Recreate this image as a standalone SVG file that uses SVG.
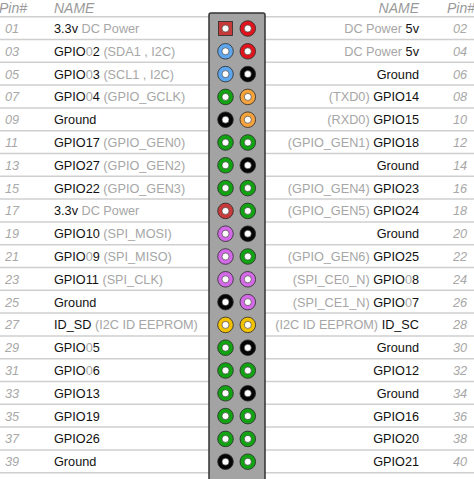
<svg xmlns="http://www.w3.org/2000/svg" width="474" height="479" viewBox="0 0 474 479">
<style>
text{font-family:"Liberation Sans",Arial,sans-serif;font-size:12.7px;fill:#111}
.h{font-style:italic;fill:#9a9a9a;font-size:14px}
.n{font-style:italic;fill:#a8a8a8}
.g{fill:#a6a6a6}
.r{text-anchor:end}
.sep line{stroke:#cfcfcf;stroke-width:1.5}
.pin{stroke:#2a2a2a;stroke-width:0.8}
.dot{fill:#fff;stroke:#333;stroke-width:0.6}
.red{fill:#e0141c}.red2{fill:#c83a3a}.blu{fill:#5ea6ee}.grn{fill:#12a312}.blk{fill:#050505}.org{fill:#f4a23c}.pur{fill:#d56ae8}.yel{fill:#f2c200}
</style>
<g id="header">
<text class="h" x="-1" y="13">Pin#</text>
<text class="h" x="54" y="13">NAME</text>
<text class="h r" x="419" y="13">NAME</text>
<text class="h" x="447" y="13">Pin#</text>
</g>
<g id="connectors" class="sep">
<line x1="0" y1="16.7" x2="209" y2="16.7"/><line x1="265" y1="16.7" x2="474" y2="16.7"/>
<line x1="0" y1="39.5" x2="209" y2="39.5"/><line x1="265" y1="39.5" x2="474" y2="39.5"/>
<line x1="0" y1="62.3" x2="209" y2="62.3"/><line x1="265" y1="62.3" x2="474" y2="62.3"/>
<line x1="0" y1="85.1" x2="209" y2="85.1"/><line x1="265" y1="85.1" x2="474" y2="85.1"/>
<line x1="0" y1="107.9" x2="209" y2="107.9"/><line x1="265" y1="107.9" x2="474" y2="107.9"/>
<line x1="0" y1="130.7" x2="209" y2="130.7"/><line x1="265" y1="130.7" x2="474" y2="130.7"/>
<line x1="0" y1="153.5" x2="209" y2="153.5"/><line x1="265" y1="153.5" x2="474" y2="153.5"/>
<line x1="0" y1="176.3" x2="209" y2="176.3"/><line x1="265" y1="176.3" x2="474" y2="176.3"/>
<line x1="0" y1="199.1" x2="209" y2="199.1"/><line x1="265" y1="199.1" x2="474" y2="199.1"/>
<line x1="0" y1="221.9" x2="209" y2="221.9"/><line x1="265" y1="221.9" x2="474" y2="221.9"/>
<line x1="0" y1="244.7" x2="209" y2="244.7"/><line x1="265" y1="244.7" x2="474" y2="244.7"/>
<line x1="0" y1="267.5" x2="209" y2="267.5"/><line x1="265" y1="267.5" x2="474" y2="267.5"/>
<line x1="0" y1="290.3" x2="209" y2="290.3"/><line x1="265" y1="290.3" x2="474" y2="290.3"/>
<line x1="0" y1="313.1" x2="209" y2="313.1"/><line x1="265" y1="313.1" x2="474" y2="313.1"/>
<line x1="0" y1="335.9" x2="209" y2="335.9"/><line x1="265" y1="335.9" x2="474" y2="335.9"/>
<line x1="0" y1="358.7" x2="209" y2="358.7"/><line x1="265" y1="358.7" x2="474" y2="358.7"/>
<line x1="0" y1="381.5" x2="209" y2="381.5"/><line x1="265" y1="381.5" x2="474" y2="381.5"/>
<line x1="0" y1="404.3" x2="209" y2="404.3"/><line x1="265" y1="404.3" x2="474" y2="404.3"/>
<line x1="0" y1="427.1" x2="209" y2="427.1"/><line x1="265" y1="427.1" x2="474" y2="427.1"/>
<line x1="0" y1="449.9" x2="209" y2="449.9"/><line x1="265" y1="449.9" x2="474" y2="449.9"/>
<line x1="0" y1="472.7" x2="209" y2="472.7"/><line x1="265" y1="472.7" x2="474" y2="472.7"/>
</g>
<g id="board"><rect x="209" y="13" width="56" height="480" rx="2" fill="#a3a3a3" stroke="#333" stroke-width="1.5"/></g>

<g id="pin01"><text class="n" x="5" y="33">01</text><text x="54" y="33">3.3v<tspan class="g"> DC Power</tspan></text><rect class="pin red2" x="218.5" y="21.5" width="14" height="14"/><circle class="dot" cx="225.5" cy="28.5" r="3.5"/></g>
<g id="pin02"><text class="n r" x="467" y="33">02</text><text class="r" x="419" y="33"><tspan class="g">DC Power </tspan>5v</text><circle class="pin red" cx="247.8" cy="28.5" r="7.8"/><circle class="dot" cx="247.8" cy="28.5" r="3.5"/></g>

<g id="pin03"><text class="n" x="5" y="55.8">03</text><text x="54" y="55.8">GPIO<tspan class="g">0</tspan>2<tspan class="g"> (SDA1 , I2C)</tspan></text><circle class="pin blu" cx="225.5" cy="51.3" r="7.8"/><circle class="dot" cx="225.5" cy="51.3" r="3.5"/></g>
<g id="pin04"><text class="n r" x="467" y="55.8">04</text><text class="r" x="419" y="55.8"><tspan class="g">DC Power </tspan>5v</text><circle class="pin red" cx="247.8" cy="51.3" r="7.8"/><circle class="dot" cx="247.8" cy="51.3" r="3.5"/></g>

<g id="pin05"><text class="n" x="5" y="78.6">05</text><text x="54" y="78.6">GPIO<tspan class="g">0</tspan>3<tspan class="g"> (SCL1 , I2C)</tspan></text><circle class="pin blu" cx="225.5" cy="74.1" r="7.8"/><circle class="dot" cx="225.5" cy="74.1" r="3.5"/></g>
<g id="pin06"><text class="n r" x="467" y="78.6">06</text><text class="r" x="419" y="78.6">Ground</text><circle class="pin blk" cx="247.8" cy="74.1" r="7.8"/><circle class="dot" cx="247.8" cy="74.1" r="3.5"/></g>

<g id="pin07"><text class="n" x="5" y="101.4">07</text><text x="54" y="101.4">GPIO<tspan class="g">0</tspan>4<tspan class="g"> (GPIO_GCLK)</tspan></text><circle class="pin grn" cx="225.5" cy="96.9" r="7.8"/><circle class="dot" cx="225.5" cy="96.9" r="3.5"/></g>
<g id="pin08"><text class="n r" x="467" y="101.4">08</text><text class="r" x="419" y="101.4"><tspan class="g">(TXD0) </tspan>GPIO14</text><circle class="pin org" cx="247.8" cy="96.9" r="7.8"/><circle class="dot" cx="247.8" cy="96.9" r="3.5"/></g>

<g id="pin09"><text class="n" x="5" y="124.2">09</text><text x="54" y="124.2">Ground</text><circle class="pin blk" cx="225.5" cy="119.7" r="7.8"/><circle class="dot" cx="225.5" cy="119.7" r="3.5"/></g>
<g id="pin10"><text class="n r" x="467" y="124.2">10</text><text class="r" x="419" y="124.2"><tspan class="g">(RXD0) </tspan>GPIO15</text><circle class="pin org" cx="247.8" cy="119.7" r="7.8"/><circle class="dot" cx="247.8" cy="119.7" r="3.5"/></g>

<g id="pin11"><text class="n" x="5" y="147">11</text><text x="54" y="147">GPIO17<tspan class="g"> (GPIO_GEN0)</tspan></text><circle class="pin grn" cx="225.5" cy="142.5" r="7.8"/><circle class="dot" cx="225.5" cy="142.5" r="3.5"/></g>
<g id="pin12"><text class="n r" x="467" y="147">12</text><text class="r" x="419" y="147"><tspan class="g">(GPIO_GEN1) </tspan>GPIO18</text><circle class="pin grn" cx="247.8" cy="142.5" r="7.8"/><circle class="dot" cx="247.8" cy="142.5" r="3.5"/></g>

<g id="pin13"><text class="n" x="5" y="169.8">13</text><text x="54" y="169.8">GPIO27<tspan class="g"> (GPIO_GEN2)</tspan></text><circle class="pin grn" cx="225.5" cy="165.3" r="7.8"/><circle class="dot" cx="225.5" cy="165.3" r="3.5"/></g>
<g id="pin14"><text class="n r" x="467" y="169.8">14</text><text class="r" x="419" y="169.8">Ground</text><circle class="pin blk" cx="247.8" cy="165.3" r="7.8"/><circle class="dot" cx="247.8" cy="165.3" r="3.5"/></g>

<g id="pin15"><text class="n" x="5" y="192.6">15</text><text x="54" y="192.6">GPIO22<tspan class="g"> (GPIO_GEN3)</tspan></text><circle class="pin grn" cx="225.5" cy="188.1" r="7.8"/><circle class="dot" cx="225.5" cy="188.1" r="3.5"/></g>
<g id="pin16"><text class="n r" x="467" y="192.6">16</text><text class="r" x="419" y="192.6"><tspan class="g">(GPIO_GEN4) </tspan>GPIO23</text><circle class="pin grn" cx="247.8" cy="188.1" r="7.8"/><circle class="dot" cx="247.8" cy="188.1" r="3.5"/></g>

<g id="pin17"><text class="n" x="5" y="215.4">17</text><text x="54" y="215.4">3.3v<tspan class="g"> DC Power</tspan></text><circle class="pin red2" cx="225.5" cy="210.9" r="7.8"/><circle class="dot" cx="225.5" cy="210.9" r="3.5"/></g>
<g id="pin18"><text class="n r" x="467" y="215.4">18</text><text class="r" x="419" y="215.4"><tspan class="g">(GPIO_GEN5) </tspan>GPIO24</text><circle class="pin grn" cx="247.8" cy="210.9" r="7.8"/><circle class="dot" cx="247.8" cy="210.9" r="3.5"/></g>

<g id="pin19"><text class="n" x="5" y="238.2">19</text><text x="54" y="238.2">GPIO10<tspan class="g"> (SPI_MOSI)</tspan></text><circle class="pin pur" cx="225.5" cy="233.7" r="7.8"/><circle class="dot" cx="225.5" cy="233.7" r="3.5"/></g>
<g id="pin20"><text class="n r" x="467" y="238.2">20</text><text class="r" x="419" y="238.2">Ground</text><circle class="pin blk" cx="247.8" cy="233.7" r="7.8"/><circle class="dot" cx="247.8" cy="233.7" r="3.5"/></g>

<g id="pin21"><text class="n" x="5" y="261">21</text><text x="54" y="261">GPIO<tspan class="g">0</tspan>9<tspan class="g"> (SPI_MISO)</tspan></text><circle class="pin pur" cx="225.5" cy="256.5" r="7.8"/><circle class="dot" cx="225.5" cy="256.5" r="3.5"/></g>
<g id="pin22"><text class="n r" x="467" y="261">22</text><text class="r" x="419" y="261"><tspan class="g">(GPIO_GEN6) </tspan>GPIO25</text><circle class="pin grn" cx="247.8" cy="256.5" r="7.8"/><circle class="dot" cx="247.8" cy="256.5" r="3.5"/></g>

<g id="pin23"><text class="n" x="5" y="283.8">23</text><text x="54" y="283.8">GPIO11<tspan class="g"> (SPI_CLK)</tspan></text><circle class="pin pur" cx="225.5" cy="279.3" r="7.8"/><circle class="dot" cx="225.5" cy="279.3" r="3.5"/></g>
<g id="pin24"><text class="n r" x="467" y="283.8">24</text><text class="r" x="419" y="283.8"><tspan class="g">(SPI_CE0_N) </tspan>GPIO<tspan class="g">0</tspan>8</text><circle class="pin pur" cx="247.8" cy="279.3" r="7.8"/><circle class="dot" cx="247.8" cy="279.3" r="3.5"/></g>

<g id="pin25"><text class="n" x="5" y="306.6">25</text><text x="54" y="306.6">Ground</text><circle class="pin blk" cx="225.5" cy="302.1" r="7.8"/><circle class="dot" cx="225.5" cy="302.1" r="3.5"/></g>
<g id="pin26"><text class="n r" x="467" y="306.6">26</text><text class="r" x="419" y="306.6"><tspan class="g">(SPI_CE1_N) </tspan>GPIO<tspan class="g">0</tspan>7</text><circle class="pin pur" cx="247.8" cy="302.1" r="7.8"/><circle class="dot" cx="247.8" cy="302.1" r="3.5"/></g>

<g id="pin27"><text class="n" x="5" y="329.4">27</text><text x="54" y="329.4">ID_SD<tspan class="g"> (I2C ID EEPROM)</tspan></text><circle class="pin yel" cx="225.5" cy="324.9" r="7.8"/><circle class="dot" cx="225.5" cy="324.9" r="3.5"/></g>
<g id="pin28"><text class="n r" x="467" y="329.4">28</text><text class="r" x="419" y="329.4"><tspan class="g">(I2C ID EEPROM) </tspan>ID_SC</text><circle class="pin yel" cx="247.8" cy="324.9" r="7.8"/><circle class="dot" cx="247.8" cy="324.9" r="3.5"/></g>

<g id="pin29"><text class="n" x="5" y="352.2">29</text><text x="54" y="352.2">GPIO<tspan class="g">0</tspan>5</text><circle class="pin grn" cx="225.5" cy="347.7" r="7.8"/><circle class="dot" cx="225.5" cy="347.7" r="3.5"/></g>
<g id="pin30"><text class="n r" x="467" y="352.2">30</text><text class="r" x="419" y="352.2">Ground</text><circle class="pin blk" cx="247.8" cy="347.7" r="7.8"/><circle class="dot" cx="247.8" cy="347.7" r="3.5"/></g>

<g id="pin31"><text class="n" x="5" y="375">31</text><text x="54" y="375">GPIO<tspan class="g">0</tspan>6</text><circle class="pin grn" cx="225.5" cy="370.5" r="7.8"/><circle class="dot" cx="225.5" cy="370.5" r="3.5"/></g>
<g id="pin32"><text class="n r" x="467" y="375">32</text><text class="r" x="419" y="375">GPIO12</text><circle class="pin grn" cx="247.8" cy="370.5" r="7.8"/><circle class="dot" cx="247.8" cy="370.5" r="3.5"/></g>

<g id="pin33"><text class="n" x="5" y="397.8">33</text><text x="54" y="397.8">GPIO13</text><circle class="pin grn" cx="225.5" cy="393.3" r="7.8"/><circle class="dot" cx="225.5" cy="393.3" r="3.5"/></g>
<g id="pin34"><text class="n r" x="467" y="397.8">34</text><text class="r" x="419" y="397.8">Ground</text><circle class="pin blk" cx="247.8" cy="393.3" r="7.8"/><circle class="dot" cx="247.8" cy="393.3" r="3.5"/></g>

<g id="pin35"><text class="n" x="5" y="420.6">35</text><text x="54" y="420.6">GPIO19</text><circle class="pin grn" cx="225.5" cy="416.1" r="7.8"/><circle class="dot" cx="225.5" cy="416.1" r="3.5"/></g>
<g id="pin36"><text class="n r" x="467" y="420.6">36</text><text class="r" x="419" y="420.6">GPIO16</text><circle class="pin grn" cx="247.8" cy="416.1" r="7.8"/><circle class="dot" cx="247.8" cy="416.1" r="3.5"/></g>

<g id="pin37"><text class="n" x="5" y="443.4">37</text><text x="54" y="443.4">GPIO26</text><circle class="pin grn" cx="225.5" cy="438.9" r="7.8"/><circle class="dot" cx="225.5" cy="438.9" r="3.5"/></g>
<g id="pin38"><text class="n r" x="467" y="443.4">38</text><text class="r" x="419" y="443.4">GPIO20</text><circle class="pin grn" cx="247.8" cy="438.9" r="7.8"/><circle class="dot" cx="247.8" cy="438.9" r="3.5"/></g>

<g id="pin39"><text class="n" x="5" y="466.2">39</text><text x="54" y="466.2">Ground</text><circle class="pin blk" cx="225.5" cy="461.7" r="7.8"/><circle class="dot" cx="225.5" cy="461.7" r="3.5"/></g>
<g id="pin40"><text class="n r" x="467" y="466.2">40</text><text class="r" x="419" y="466.2">GPIO21</text><circle class="pin grn" cx="247.8" cy="461.7" r="7.8"/><circle class="dot" cx="247.8" cy="461.7" r="3.5"/></g>
</svg>
